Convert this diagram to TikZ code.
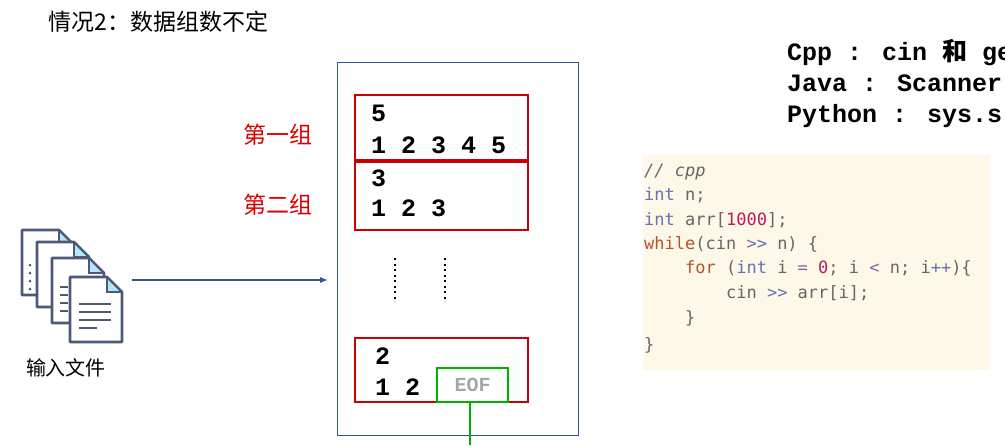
\documentclass[tikz,border=0pt]{standalone}
\usepackage{fontspec}
\usetikzlibrary{arrows.meta}
\newfontfamily\cjk{Noto Sans CJK SC}
\newfontfamily\mono{DejaVu Sans Mono}
\newfontfamily\cour{Liberation Mono}
\begin{document}
\begin{tikzpicture}[x=1pt,y=-1pt,
  redbox/.style={draw=red!80!black,line width=1.3pt},
  num/.style={anchor=base west,font=\cour\bfseries\fontsize{25}{25}\selectfont,inner sep=0},
  code/.style={anchor=base west,font=\mono\fontsize{17}{17}\selectfont,inner sep=0,text=gray!80!black},
  lab/.style={font=\cjk\fontsize{23}{23}\selectfont,text=red!85!black},
  page/.style={draw=docc,fill=white,line width=2.6pt,line join=round}]
\definecolor{docc}{HTML}{4A5A78}
\definecolor{kw}{HTML}{B5542B}
\definecolor{ty}{HTML}{6A6FB0}
\definecolor{nm}{HTML}{C2185B}
\definecolor{cream}{HTML}{FDF8E8}
\definecolor{bl}{HTML}{2F5597}
\useasboundingbox (0,0) rectangle (1005,445);
\clip (0,0) rectangle (1005,445);
\node[anchor=west,font=\cjk\fontsize{23}{23}\selectfont] (title) at (45,22) {情况2：数据组数不定};
% container
\node[draw=bl,line width=0.9pt,minimum width=241,minimum height=373,inner sep=0] (cont) at (457.5,248.5) {};
\node[redbox,minimum width=173,minimum height=65,inner sep=0] (g1) at (441.5,127.5) {};
\node[redbox,minimum width=173,minimum height=68,inner sep=0] (g2) at (441.5,196) {};
\node[redbox,minimum width=173,minimum height=64,inner sep=0] (g3) at (441.5,370) {};
\node[num] (t1) at (371,121) {5};
\node[num] (t2) at (371,153) {1 2 3 4 5};
\node[num] (t3) at (371,186) {3};
\node[num] (t4) at (371,216) {1 2 3};
\node[num] (t5) at (375,364) {2};
\node[num] (t6) at (375,395) {1 2};
\node[draw=green!70!black,line width=1.3pt,minimum width=71,minimum height=34,inner sep=0,text=gray!70,font=\cour\bfseries\fontsize{20}{20}\selectfont] (eof) at (472.5,385) {EOF};
\coordinate (eofend) at (470,445);
\draw[green!70!black,line width=1.3pt] (eof.south -| eofend) -- (eofend);
\coordinate (d1a) at (395,258); \coordinate (d1b) at (395,302);
\coordinate (d2a) at (445,258); \coordinate (d2b) at (445,302);
\draw[line width=2pt,dash pattern=on 2pt off 3.5pt] (d1a) -- (d1b);
\draw[line width=2pt,dash pattern=on 2pt off 3.5pt] (d2a) -- (d2b);
\node[lab] (l1) at (278,135) {第一组};
\node[lab] (l2) at (278,205) {第二组};
% icon
\foreach \x/\y in {22/230,37/242,52/258,70/277}{
  \draw[page] (\x,\y) -- (\x+37,\y) -- (\x+52,\y+15) -- (\x+52,\y+65) -- (\x,\y+65) -- cycle;
  \fill[cyan!30] (\x+37,\y+2) -- (\x+50,\y+15) -- (\x+37,\y+15) -- cycle;
  \draw[docc,line width=2pt] (\x+37,\y) -- (\x+37,\y+15) -- (\x+52,\y+15);
}
\foreach \i in {0,1,2,3}{\fill[docc] (30,265+\i*8) circle (1.5);}
\foreach \i in {0,1,2,3}{\draw[docc,line width=2.2pt] (60,287+\i*8) -- (68,287+\i*8);}
\foreach \i/\w in {0/32,1/32,2/32,3/18}{\draw[docc,line width=2.2pt] (79,304+\i*8) -- (79+\w,304+\i*8);}
\node[font=\cjk\fontsize{20}{20}\selectfont] (icl) at (66,368) {输入文件};
\coordinate (icon) at (132,280);
\coordinate (contin) at (328,280);
\draw[bl,line width=1.2pt,-{Latex[length=8pt,width=6pt]}] (icon) -- (contin);
% right text
\node[anchor=base west,inner sep=0,font=\cour\bfseries\fontsize{25}{25}\selectfont] (r1) at (787,60) {Cpp : cin {\cjk\bfseries 和} ge};
\node[anchor=base west,inner sep=0,font=\cour\bfseries\fontsize{25}{25}\selectfont] (r2) at (787,91) {Java : Scanner};
\node[anchor=base west,inner sep=0,font=\cour\bfseries\fontsize{25}{25}\selectfont] (r3) at (787,122) {Python : sys.s};
% code
\fill[cream] (643,155) rectangle (990,370);
\node[code] at (644,176) {\itshape // cpp};
\node[code] at (644,200) {\textcolor{ty}{int} n;};
\node[code] at (644,225) {\textcolor{ty}{int} arr[\textcolor{nm}{1000}];};
\node[code] at (644,249) {\textcolor{kw}{while}(cin \textcolor{ty}{>>} n) \{};
\node[code] at (644,273) {\phantom{0000}\textcolor{kw}{for} (\textcolor{ty}{int} i \textcolor{ty}{=} \textcolor{nm}{0}; i \textcolor{ty}{<} n; i\textcolor{ty}{++})\{};
\node[code] at (644,298) {\phantom{00000000}cin \textcolor{ty}{>>} arr[i];};
\node[code] at (644,323) {\phantom{0000}\}};
\node[code] at (644,350) {\}};
\end{tikzpicture}
\end{document}
